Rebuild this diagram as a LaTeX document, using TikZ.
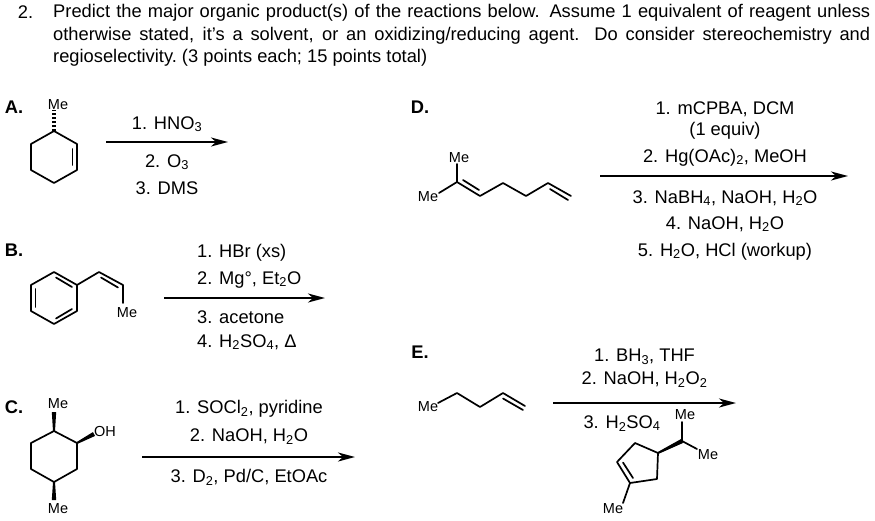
\documentclass[tikz,border=0pt]{standalone}
\usepackage{fontspec}
\setmainfont{Liberation Sans}
\usepackage{tikz}
\usetikzlibrary{arrows.meta,calc}

\tikzset{
	bond/.style={line width=1.7pt, line cap=round, line join=round},
	rxnarrow/.style={line width=2.1pt, -{Stealth[length=17pt,width=9pt,inset=5pt]}},
	reagent/.style={anchor=base, inner sep=0pt, font=\fontsize{18.3}{22}\selectfont},
	letter/.style={anchor=base, inner sep=0pt, font=\fontsize{18.3}{22}\selectfont\bfseries},
	atom/.style={inner sep=0pt, font=\fontsize{14.5}{16}\selectfont}
}
\newcommand{\wedgebond}[2]{\fill ($(#1)!2.2pt!90:(#2)$) -- ($(#1)!2.2pt!-90:(#2)$) -- ($(#2)!1pt!90:(#1)$) -- ($(#2)!1pt!-90:(#1)$) -- cycle;}

\begin{document}
\begin{tikzpicture}[x=1pt, y=-1pt]
	\useasboundingbox (0,0) rectangle (875,520);
	\fill[white] (0,0) rectangle (875,520);

	%% question
	\node[reagent] (number) at (25.5,18.5) {2.};
	\node[anchor=north west, inner sep=0pt, text width=817pt, align=justify, font=\fontsize{18.3}{22.4}\selectfont] (question) at (53,4.5) {Predict the major organic product(s) of the reactions below. Assume 1 equivalent of reagent \mbox{unless}\linebreak otherwise stated, it's a solvent, or an oxidizing/reducing agent. Do consider stereochemistry and\linebreak \mbox{regioselectivity.} (3 points each; 15 points total)};

	%% A
	\node[letter] (labelA) at (14,113) {A.};
	\coordinate (a1) at (54,131);
	\coordinate (a2) at (77,144);
	\coordinate (a3) at (77,170);
	\coordinate (a4) at (54,183);
	\coordinate (a5) at (31,170);
	\coordinate (a6) at (31,144);
	\coordinate (a7) at (72.5,149);
	\coordinate (a8) at (72.5,165);
	\coordinate (a9) at (54,110);
	\draw[bond] (a1) -- (a2) -- (a3) -- (a4) -- (a5) -- (a6) -- cycle;
	\draw[bond] (a7) -- (a8);
	\draw[line width=4pt, dash pattern=on 2pt off 2pt] (a1) -- (a9);
	\node[atom] (meA) at (58,105) {Me};
	\coordinate (arrowAs) at (106,142);
	\coordinate (arrowAe) at (228,142);
	\draw[rxnarrow] (arrowAs) -- (arrowAe);
	\node[reagent] (reagA1) at (167,129) {1. HNO\textsubscript{3}};
	\node[reagent] (reagA2) at (167,167) {2. O\textsubscript{3}};
	\node[reagent] (reagA3) at (167,194) {3. DMS};

	%% B
	\node[letter] (labelB) at (14,256) {B.};
	\coordinate (b1) at (54,272);
	\coordinate (b2) at (77,285);
	\coordinate (b3) at (77,311);
	\coordinate (b4) at (54,324);
	\coordinate (b5) at (31,311);
	\coordinate (b6) at (31,285);
	\coordinate (b7) at (99,272);
	\coordinate (b8) at (123,285);
	\coordinate (b9) at (123,303);
	\draw[bond] (b1) -- (b2) -- (b3) -- (b4) -- (b5) -- (b6) -- cycle;
	\draw[bond] (b2) -- (b7) -- (b8) -- (b9);
	\draw[bond] (35.5,289) -- (35.5,307);
	\draw[bond] (56,277.5) -- (72,287);
	\draw[bond] (56,318.5) -- (72,309);
	\draw[bond] (101,277.5) -- (118,287.5);
	\node[atom] (meB) at (127,313) {Me};
	\coordinate (arrowBs) at (164,298);
	\coordinate (arrowBe) at (325,298);
	\draw[rxnarrow] (arrowBs) -- (arrowBe);
	\node[reagent, anchor=base west] (reagB1) at (197,257.5) {1. HBr (xs)};
	\node[reagent, anchor=base west] (reagB2) at (197,284) {2. Mg°, Et\textsubscript{2}O};
	\node[reagent, anchor=base west] (reagB3) at (197,323) {3. acetone};
	\node[reagent, anchor=base west] (reagB4) at (197,347) {4. H\textsubscript{2}SO\textsubscript{4}, Δ};

	%% C
	\node[letter] (labelC) at (14,413) {C.};
	\coordinate (c1) at (54,431);
	\coordinate (c2) at (77,443);
	\coordinate (c3) at (77,469);
	\coordinate (c4) at (54,482);
	\coordinate (c5) at (31,469);
	\coordinate (c6) at (31,443);
	\coordinate (c7) at (54,412);
	\coordinate (c8) at (94,434);
	\coordinate (c9) at (54,500);
	\draw[bond] (c1) -- (c2) -- (c3) -- (c4) -- (c5) -- (c6) -- cycle;
	\wedgebond{c7}{c1}
	\wedgebond{c8}{c2}
	\wedgebond{c9}{c4}
	\node[atom] (meC1) at (58,404) {Me};
	\node[atom] (ohC) at (105,431) {OH};
	\node[atom] (meC2) at (58,509) {Me};
	\coordinate (arrowCs) at (142,457);
	\coordinate (arrowCe) at (355,457);
	\draw[rxnarrow] (arrowCs) -- (arrowCe);
	\node[reagent] (reagC1) at (249,413) {1. SOCl\textsubscript{2}, pyridine};
	\node[reagent] (reagC2) at (249,441) {2. NaOH, H\textsubscript{2}O};
	\node[reagent] (reagC3) at (249,482) {3. D\textsubscript{2}, Pd/C, EtOAc};

	%% D
	\node[letter] (labelD) at (420,113) {D.};
	\coordinate (d1) at (439,193);
	\coordinate (d2) at (457,182);
	\coordinate (d3) at (480,196);
	\coordinate (d4) at (503,183);
	\coordinate (d5) at (526,196);
	\coordinate (d6) at (548,183);
	\coordinate (d7) at (571,196);
	\coordinate (d8) at (457,164);
	\draw[bond] (d1) -- (d2) -- (d3) -- (d4) -- (d5) -- (d6) -- (d7);
	\draw[bond] (d2) -- (d8);
	\draw[bond] (463,180) -- (479,190);
	\draw[bond] (550,189) -- (568,200);
	\node[atom] (meD1) at (428,197) {Me};
	\node[atom] (meD2) at (459,158) {Me};
	\coordinate (arrowDs) at (600,176);
	\coordinate (arrowDe) at (848,176);
	\draw[rxnarrow] (arrowDs) -- (arrowDe);
	\node[reagent] (reagD1) at (725,114) {1. mCPBA, DCM};
	\node[reagent] (reagD2) at (725,135) {(1 equiv)};
	\node[reagent] (reagD3) at (725,162) {2. Hg(OAc)\textsubscript{2}, MeOH};
	\node[reagent] (reagD4) at (725,203) {3. NaBH\textsubscript{4}, NaOH, H\textsubscript{2}O};
	\node[reagent] (reagD5) at (725,229) {4. NaOH, H\textsubscript{2}O};
	\node[reagent] (reagD6) at (725,256) {5. H\textsubscript{2}O, HCl (workup)};

	%% E
	\node[letter] (labelE) at (420,358) {E.};
	\coordinate (e1) at (438,403);
	\coordinate (e2) at (457,393);
	\coordinate (e3) at (480,407);
	\coordinate (e4) at (503,393);
	\coordinate (e5) at (525,406);
	\draw[bond] (e1) -- (e2) -- (e3) -- (e4) -- (e5);
	\draw[bond] (503,398.5) -- (523,410);
	\node[atom] (meE) at (428,407) {Me};
	\coordinate (arrowEs) at (553,403);
	\coordinate (arrowEe) at (736,403);
	\draw[rxnarrow] (arrowEs) -- (arrowEe);
	\node[reagent] (reagE1) at (644.5,361) {1. BH\textsubscript{3}, THF};
	\node[reagent] (reagE2) at (644.5,384) {2. NaOH, H\textsubscript{2}O\textsubscript{2}};
	\node[reagent] (reagE3) at (622,428) {3. H\textsubscript{2}SO\textsubscript{4}};

	%% product drawn under arrow E
	\coordinate (p1) at (658,453);
	\coordinate (p2) at (635,443);
	\coordinate (p3) at (617,462);
	\coordinate (p4) at (630,483);
	\coordinate (p5) at (657,479);
	\coordinate (p6) at (682,441);
	\coordinate (p7) at (682,422);
	\coordinate (p8) at (697,449);
	\coordinate (p9) at (623,503);
	\draw[bond] (p1) -- (p2) -- (p3) -- (p4) -- (p5) -- cycle;
	\draw[bond] (p6) -- (p7);
	\draw[bond] (p6) -- (p8);
	\draw[bond] (p4) -- (p9);
	\draw[bond] (623,462.5) -- (633,478);
	\wedgebond{p6}{p1}
	\node[atom] (meP1) at (685,415) {Me};
	\node[atom] (meP2) at (708,455) {Me};
	\node[atom] (meP3) at (613,509) {Me};
\end{tikzpicture}
\end{document}
